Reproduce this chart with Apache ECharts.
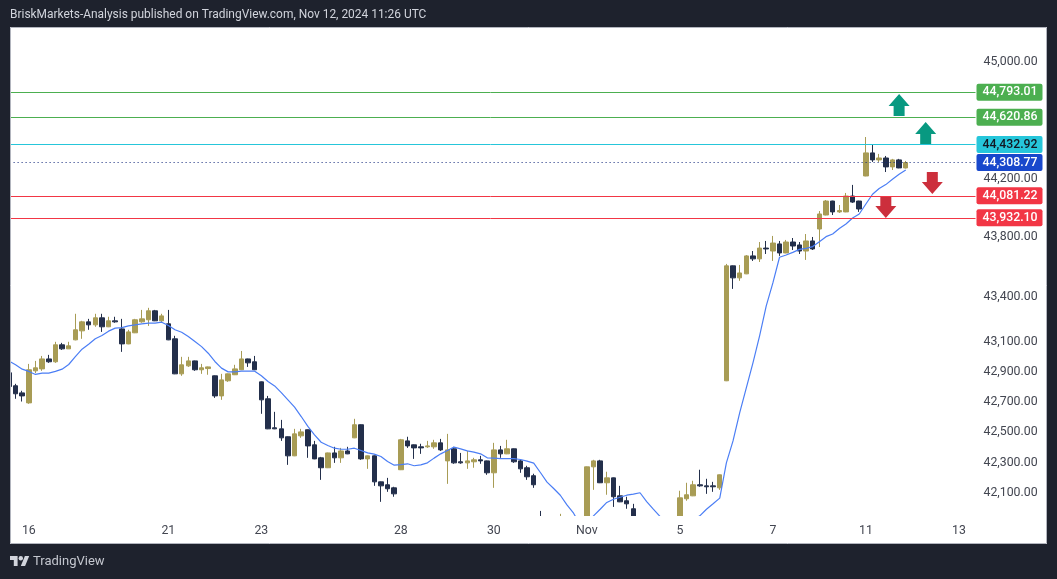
<!DOCTYPE html>
<html>
<head>
<meta charset="utf-8">
<style>html,body{margin:0;padding:0;background:#1e222d}#c{width:1057px;height:579px}</style>
<script src="https://cdn.jsdelivr.net/npm/echarts@6/dist/echarts.min.js"></script>
</head>
<body>
<div id="c"></div>
<script>
// Three-hour candles, [open, close, low, high]; sessions are 7 bars long.
const candles = [
[42892,42801,42788,42912],[42806,42753,42720,42819],[42759,42739,42702,42773],[42693,42912,42687,42951],
[42905,42925,42890,42971],[42918,42984,42905,43004],[42984,42965,42958,43011],[42965,43078,42958,43098],
[43078,43051,43044,43091],[43051,43071,43051,43098],[43111,43178,43108,43285],[43171,43231,43118,43238],
[43231,43211,43178,43251],[43211,43258,43198,43285],[43258,43198,43164,43285],[43198,43238,43196,43265],
[43238,43231,43225,43265],[43184,43084,43031,43251],[43084,43164,43082,43178],[43158,43245,43156,43251],
[43231,43251,43225,43311],[43245,43305,43204,43325],[43305,43238,43236,43311],[43238,43271,43225,43285],
[43218,43111,43109,43311],[43118,42885,42883,43138],[42885,42945,42872,42998],[42938,42971,42931,42998],
[42971,42912,42905,42973],[42912,42925,42885,42951],[42920,42931,42879,42933],[42872,42739,42726,42874],
[42739,42845,42713,42885],[42839,42885,42832,42887],[42879,42918,42877,42945],[42912,42984,42910,43037],
[42984,42958,42931,42986],[42965,42912,42910,43004],[42832,42713,42621,42834],[42720,42522,42520,42739],
[42529,42522,42520,42634],[42522,42463,42443,42581],[42470,42345,42286,42472],[42345,42489,42343,42522],
[42476,42502,42463,42522],[42516,42410,42332,42518],[42417,42325,42323,42443],[42332,42267,42188,42338],
[42267,42364,42265,42366],[42364,42332,42299,42404],[42332,42377,42299,42397],[42377,42358,42356,42404],
[42463,42549,42461,42588],[42549,42325,42319,42551],[42325,42345,42260,42347],[42345,42175,42149,42347],
[42175,42149,42045,42177],[42156,42130,42110,42201],[42136,42097,42078,42143],[42254,42450,42252,42456],
[42443,42410,42397,42470],[42417,42397,42325,42419],[42404,42397,42358,42424],[42404,42410,42397,42443],
[42404,42430,42391,42450],[42430,42384,42377,42456],[42312,42384,42162,42489],[42391,42299,42293,42404],
[42306,42299,42293,42364],[42299,42312,42260,42377],[42306,42319,42267,42332],[42319,42312,42293,42345],
[42312,42234,42221,42314],[42234,42384,42136,42430],[42384,42358,42332,42410],[42358,42391,42356,42450],
[42391,42306,42299,42393],[42312,42260,42234,42319],[42267,42208,42188,42280],[42215,42156,42136,42228],
[41940,41900,41880,41986],[41900,41860,41840,41930],[41860,41830,41810,41900],[41850,41900,41830,41967],
[41900,41860,41830,41930],[41860,41820,41790,41900],[41820,41840,41780,41870],[41840,42273,41820,42275],
[42273,42312,42123,42319],[42312,42169,42167,42319],[42169,42201,42091,42241],[42201,42078,42012,42203],
[42084,42045,42043,42149],[42052,42032,42000,42078],[42000,41925,41900,42032],[41925,41880,41860,41940],
[41880,41840,41820,41920],[41840,41870,41810,41890],[41870,41830,41800,41900],[41830,41850,41790,41880],
[41850,41860,41800,41890],[41860,42071,41840,42117],[42065,42091,42052,42169],[42084,42156,42082,42182],
[42156,42149,42143,42254],[42149,42143,42097,42195],[42149,42143,42110,42175],[42136,42221,42123,42223],
[42839,43607,42837,43620],[43607,43526,43452,43609],[43526,43559,43506,43613],[43553,43674,43551,43680],
[43674,43654,43640,43707],[43654,43727,43633,43768],[43727,43721,43687,43775],[43707,43761,43640,43809],
[43755,43694,43674,43775],[43694,43768,43692,43782],[43768,43741,43714,43795],[43748,43707,43687,43768],
[43707,43775,43647,43822],[43775,43721,43714,43802],[43856,43958,43734,43978],[43951,44046,43949,44053],
[44046,43972,43951,44048],[43972,43981,43965,44019],[43972,44080,43970,44101],[44080,44039,44033,44156],
[44046,43992,43972,44048],[44217,44375,44215,44484],[44375,44327,44313,44429],[44327,44340,44313,44368],
[44340,44279,44244,44354],[44279,44327,44258,44334],[44327,44272,44270,44334],[44272,44308.77,44268,44320]
];

// Moving average drawn over the candles, one value per bar.
const movingAverage = [
42971,42945,42916,42901,42881,42890,42890,42901,42916,42947,42999,43049,43082,43118,43140,43169,43189,43193,
43204,43211,43218,43222,43222,43229,43207,43178,43162,43133,43100,43066,43022,42967,42923,42898,42898,42903,
42903,42903,42872,42834,42805,42761,42713,42665,42603,42538,42483,42434,42413,42395,42388,42388,42395,42380,
42364,42356,42341,42308,42284,42288,42293,42280,42286,42299,42330,42358,42380,42402,42391,42377,42369,42358,
42332,42330,42327,42327,42327,42321,42310,42297,42236,42173,42132,42088,42025,41971,41895,41895,41954,41997,
42041,42062,42075,42088,42095,42104,42047,41997,41950,41895,41873,41873,41895,41928,41954,41997,42032,42069,
42299,42443,42627,42792,42958,43138,43338,43492,43665,43680,43698,43718,43725,43737,43770,43804,43822,43859,
43890,43931,43958,44026,44092,44131,44158,44194,44229,44258
];

const barCount = 146;
const dayTickBars = [3, 24, 38, 59, 73, 87, 101, 115, 129, 143];
const dayTickLabels = ['16', '21', '23', '28', '30', 'Nov', '5', '7', '11', '13'];
const priceTicks = [45000, 44200, 43800, 43400, 43100, 42900, 42700, 42500, 42300, 42100];

const levelPrices = [44793.01, 44620.86, 44432.92, 44081.22, 43932.10];
const levelColors = ['#4caf50', '#4caf50', '#26c6da', '#f23645', '#f23645'];
const levelTextColors = ['#ffffff', '#ffffff', '#131722', '#ffffff', '#ffffff'];
const lastPrice = 44308.77;

const upArrows = [[134, 44705], [138, 44512]];
const downArrows = [[139, 44169], [132, 44006]];

const categories = Array.from({ length: barCount }, (_, i) => {
  const k = dayTickBars.indexOf(i);
  return k < 0 ? '' : dayTickLabels[k];
});
const fmt = v => Number(v).toLocaleString('en-US', { minimumFractionDigits: 2, maximumFractionDigits: 2 });

const tag = (color, textColor) => ({
  show: true, position: 'end', distance: 1, formatter: p => fmt(p.value),
  color: textColor, backgroundColor: color, borderRadius: 2,
  padding: [3, 6, 1, 6], lineHeight: 13, width: 54,
  fontFamily: 'Roboto', fontSize: 12.3, fontWeight: 500
});

const levelLines = levelPrices.map((price, i) => ({
  yAxis: price,
  lineStyle: { color: levelColors[i], type: 'solid', width: 1 },
  label: tag(levelColors[i], levelTextColors[i])
}));
levelLines.push({
  yAxis: lastPrice,
  lineStyle: { color: '#10257a', type: [1, 3], width: 1.2 },
  label: tag('#1848cc', '#ffffff')
});

const UP_PATH = 'path://M10.5,0 L21,12 L16,12 L16,22 L5,22 L5,12 L0,12 Z';
const DOWN_PATH = 'path://M5,0 L16,0 L16,10 L21,10 L10.5,22 L0,10 L5,10 Z';

const chart = echarts.init(document.getElementById('c'), null, { renderer: 'canvas' });
chart.setOption({
  animation: false,
  backgroundColor: '#1e222d',
  grid: { left: 5.6, top: 28, width: 969.9, height: 488, containLabel: false },
  xAxis: {
    type: 'category', data: categories, boundaryGap: true, z: 60,
    axisLine: { show: false }, axisTick: { show: false }, splitLine: { show: false },
    axisLabel: { interval: 0, margin: 9, color: '#434651', fontFamily: 'Roboto', fontSize: 12.3 }
  },
  yAxis: {
    type: 'log', position: 'right', min: 41953, max: 45240, scale: true,
    axisLine: { show: false }, axisTick: { show: false }, splitLine: { show: false }, minorSplitLine: { show: false },
    axisLabel: { customValues: priceTicks, margin: 8, padding: [2, 0, 0, 0], color: '#434651', fontFamily: 'Roboto', fontSize: 12.3, formatter: v => fmt(v) }
  },
  series: [
    {
      type: 'candlestick', data: candles, barWidth: 5, clip: true,
      itemStyle: { color: '#a89c55', color0: '#232f4b', borderColor: '#a89c55', borderColor0: '#232f4b', borderWidth: 1 },
      markLine: { silent: true, symbol: 'none', animation: false, data: levelLines }
    },
    {
      type: 'line', data: movingAverage, showSymbol: false, clip: true, silent: true,
      lineStyle: { color: '#4b7ef5', width: 1.2 }, z: 3
    },
    {
      type: 'scatter', data: upArrows, symbol: UP_PATH, symbolSize: [21, 22], silent: true,
      itemStyle: { color: '#089981', opacity: 1 }, z: 4
    },
    {
      type: 'scatter', data: downArrows, symbol: DOWN_PATH, symbolSize: [21, 22], silent: true,
      itemStyle: { color: '#cc2f3c', opacity: 1 }, z: 4
    }
  ],
  graphic: [
    { type: 'rect', z: -5, shape: { x: 10, y: 27, width: 1037, height: 517 }, style: { fill: '#ffffff' } },
    // Time-scale strip sits over the plot, so bars running below the visible range end at its edge.
    { type: 'rect', z: 10, shape: { x: 10, y: 516, width: 965, height: 27 }, style: { fill: '#ffffff' } },
    { type: 'rect', z: 50, shape: { x: 0, y: 0, width: 10, height: 579 }, style: { fill: '#1e222d' } },
    { type: 'rect', z: 51, shape: { x: 10.5, y: 27.5, width: 1036, height: 516 }, style: { fill: 'none', stroke: '#b2b5be', lineWidth: 1 } },
    { type: 'text', z: 52, x: 10, y: 15, style: { text: 'BriskMarkets-Analysis published on TradingView.com, Nov 12, 2024 11:26 UTC', fill: '#d1d4dc', font: '11.95px Roboto', textVerticalAlign: 'middle' } },
    { type: 'polygon', z: 52, shape: { points: [[10, 556], [17.6, 556], [17.6, 566], [13.8, 566], [13.8, 560], [10, 560]] }, style: { fill: '#d1d4dc' } },
    { type: 'polygon', z: 52, shape: { points: [[20.8, 566], [24.9, 556], [29.2, 556], [25.1, 566]] }, style: { fill: '#d1d4dc' } },
    { type: 'circle', z: 52, shape: { cx: 20.8, cy: 558.2, r: 2.2 }, style: { fill: '#d1d4dc' } },
    { type: 'text', z: 52, x: 33, y: 562, style: { text: 'TradingView', fill: '#c4c7cf', font: '13px Roboto', textVerticalAlign: 'middle' } }
  ]
});
</script>
</body>
</html>
